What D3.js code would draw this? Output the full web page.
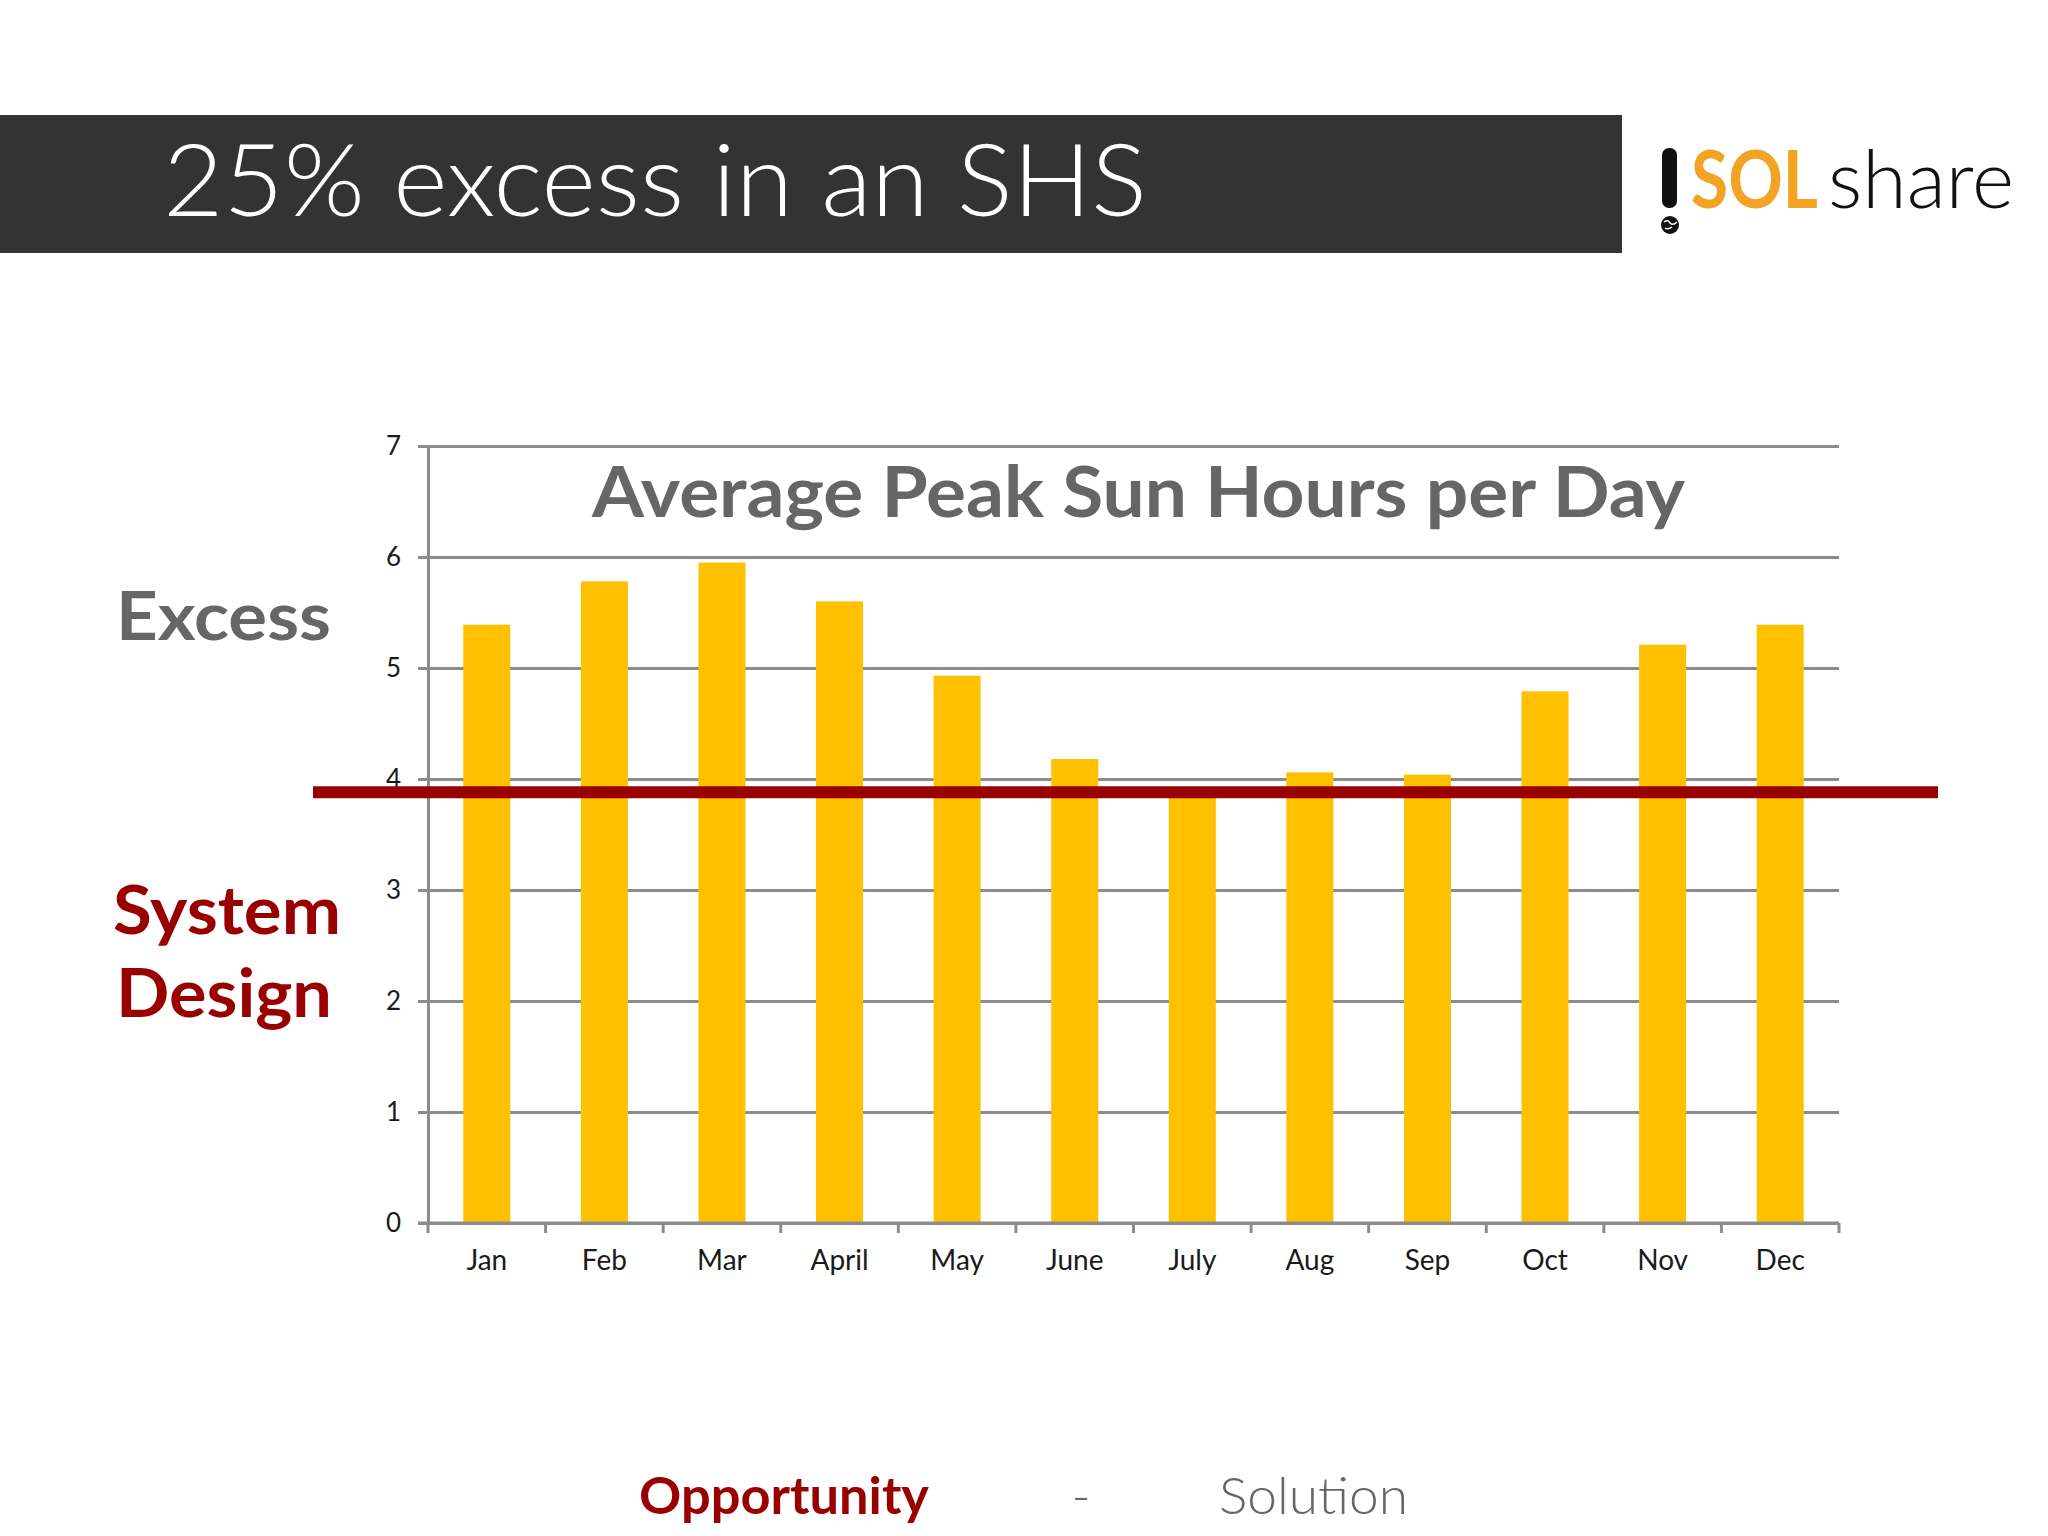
<!DOCTYPE html>
<html>
<head>
<meta charset="utf-8">
<script src="https://cdn.jsdelivr.net/npm/d3@7"></script>
<style>
  html, body { margin: 0; padding: 0; background: #fff; }
  svg { display: block; }
</style>
</head>
<body>
<div id="chart"></div>
<script>
// data
const months = ["Jan", "Feb", "Mar", "April", "May", "June", "July", "Aug", "Sep", "Oct", "Nov", "Dec"];
const sunHours = [5.39, 5.78, 5.95, 5.6, 4.93, 4.18, 3.9, 4.06, 4.04, 4.79, 5.21, 5.39];
const yTicks = [0, 1, 2, 3, 4, 5, 6, 7];
const designLevel = 3.88;

const width = 2048, height = 1536;
const font = "'Century Gothic', 'URW Gothic', Lato, 'DejaVu Sans', sans-serif";
const gridColor = "#8c8c8c";
const darkRed = "#990000";

const svg = d3.select("#chart").append("svg")
    .attr("width", width)
    .attr("height", height)
    .style("font-family", font);

svg.append("rect").attr("width", width).attr("height", height).attr("fill", "#fff");

// squeeze/stretch text to the reference width (Century Gothic is wider than the fallback)
function fitText(sel, w) {
    sel.attr("textLength", w).attr("lengthAdjust", "spacingAndGlyphs");
    return sel;
}

// --- header band
svg.append("rect")
    .attr("x", 0).attr("y", 115)
    .attr("width", 1622).attr("height", 138)
    .attr("fill", "#333333");

fitText(svg.append("text")
    .attr("x", 163).attr("y", 216)
    .attr("fill", "#fff")
    .style("font-size", "101px")
    .style("font-weight", 300)
    .text("25% excess in an SHS"), 984);

// --- logo
const logo = svg.append("g").attr("class", "logo");
logo.append("rect").attr("x", 1662).attr("y", 148).attr("width", 15).attr("height", 60).attr("rx", 7).attr("fill", "#111");
logo.append("circle").attr("cx", 1670).attr("cy", 225).attr("r", 9).attr("fill", "#111");
logo.append("path")
    .attr("d", "M1664,222 q4,-3 6,1 q3,3 7,-1 M1665,228 q3,2 7,-1")
    .attr("stroke", "#fff").attr("stroke-width", 1.5).attr("fill", "none");
fitText(logo.append("text")
    .attr("x", 1691).attr("y", 208)
    .attr("fill", "#F2A324")
    .style("font-size", "80px")
    .style("font-weight", 700)
    .text("SOL"), 127);
fitText(logo.append("text")
    .attr("x", 1828).attr("y", 208)
    .attr("fill", "#111")
    .style("font-size", "80px")
    .style("font-weight", 300)
    .text("share"), 186);

// --- chart
const x0 = 428, x1 = 1839, yBottom = 1223, yTop = 446;

const x = d3.scaleBand()
    .domain(months)
    .range([x0, x1])
    .paddingInner(0.6)
    .paddingOuter(0.3);

const y = d3.scaleLinear()
    .domain([0, 7])
    .range([yBottom, yTop]);

// gridlines
const grid = svg.append("g")
    .attr("transform", `translate(${x0},0)`)
    .call(d3.axisLeft(y).tickValues(yTicks).tickSize(-(x1 - x0)).tickFormat(""));
grid.select(".domain").remove();
grid.selectAll("line").attr("stroke", gridColor).attr("stroke-width", 3);

// y axis with stubs + labels
const yAxis = svg.append("g")
    .attr("transform", `translate(${x0},0)`)
    .call(d3.axisLeft(y).tickValues(yTicks).tickFormat(d3.format("d"))
        .tickSize(10).tickSizeOuter(0).tickPadding(17));
yAxis.select(".domain").attr("stroke", gridColor).attr("stroke-width", 3);
yAxis.selectAll(".tick line").attr("stroke", gridColor).attr("stroke-width", 3);
yAxis.selectAll(".tick text")
    .attr("fill", "#1a1a1a")
    .style("font-family", font)
    .style("font-size", "26px");

// chart title
fitText(svg.append("text")
    .attr("x", (x0 + x1) / 2 + 5).attr("y", 517)
    .attr("text-anchor", "middle")
    .attr("fill", "#666666")
    .style("font-size", "70px")
    .style("font-weight", 700)
    .text("Average Peak Sun Hours per Day"), 1093);

// bars
svg.append("g").selectAll("rect")
    .data(months.map((m, i) => ({ month: m, value: sunHours[i] })))
    .join("rect")
    .attr("x", d => x(d.month))
    .attr("y", d => y(d.value))
    .attr("width", x.bandwidth())
    .attr("height", d => y(0) - y(d.value))
    .attr("fill", "#FFC000");

// x axis
const xAxis = svg.append("g")
    .attr("transform", `translate(0,${yBottom})`)
    .call(d3.axisBottom(x).tickSize(0).tickSizeOuter(0));
xAxis.select(".domain").remove();
xAxis.selectAll(".tick text")
    .attr("y", 47).attr("dy", 0)
    .attr("fill", "#1a1a1a")
    .style("font-family", font)
    .style("font-size", "28px");

xAxis.append("line")
    .attr("x1", x0 - 10).attr("x2", x1)
    .attr("y1", 0).attr("y2", 0)
    .attr("stroke", gridColor).attr("stroke-width", 3);

// tick marks sit on the category boundaries
const bandStart = x(months[0]) - x.step() * x.paddingOuter();
xAxis.selectAll(".bound")
    .data(d3.range(months.length + 1))
    .join("line")
    .attr("class", "bound")
    .attr("x1", i => bandStart + i * x.step())
    .attr("x2", i => bandStart + i * x.step())
    .attr("y1", 0).attr("y2", 10)
    .attr("stroke", gridColor).attr("stroke-width", 3);

// system design line
svg.append("line")
    .attr("x1", 313).attr("x2", 1938)
    .attr("y1", y(designLevel)).attr("y2", y(designLevel))
    .attr("stroke", darkRed)
    .attr("stroke-width", 12);

// side labels
fitText(svg.append("text")
    .attr("x", 116).attr("y", 640)
    .attr("fill", "#666666")
    .style("font-size", "67px").style("font-weight", 700)
    .text("Excess"), 215);
fitText(svg.append("text")
    .attr("x", 113).attr("y", 934)
    .attr("fill", darkRed)
    .style("font-size", "67px").style("font-weight", 700)
    .text("System"), 228);
fitText(svg.append("text")
    .attr("x", 116).attr("y", 1017)
    .attr("fill", darkRed)
    .style("font-size", "67px").style("font-weight", 700)
    .text("Design"), 216);

// footer
fitText(svg.append("text")
    .attr("x", 639).attr("y", 1514)
    .attr("fill", darkRed)
    .style("font-size", "52px").style("font-weight", 700)
    .text("Opportunity"), 290);
svg.append("text")
    .attr("x", 1081).attr("y", 1514)
    .attr("text-anchor", "middle")
    .attr("fill", "#666666")
    .style("font-size", "52px").style("font-weight", 300)
    .text("-");
fitText(svg.append("text")
    .attr("x", 1219).attr("y", 1514)
    .attr("fill", "#666666")
    .style("font-size", "52px").style("font-weight", 300)
    .text("Solution"), 189);
</script>
</body>
</html>
